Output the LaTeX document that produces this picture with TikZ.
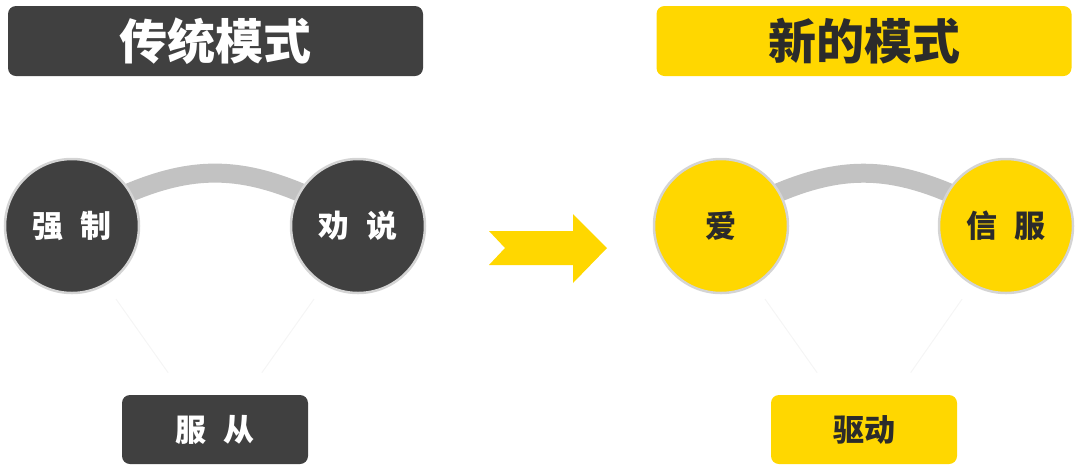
\documentclass[tikz,border=0pt]{standalone}
\usepackage{fontspec}
\newfontfamily\cjk{Noto Sans CJK SC}
\usetikzlibrary{positioning,backgrounds}
\definecolor{darkgrey}{HTML}{404040}
\definecolor{gold}{HTML}{FFD700}
\definecolor{bandgrey}{HTML}{C2C2C2}
\definecolor{ringgrey}{HTML}{D4D4D4}
\definecolor{inkgrey}{HTML}{2B2B2B}
\newcommand{\gap}{\hspace{0.55em}}

\tikzset{
  title/.style={rounded corners=8pt, minimum width=415pt, minimum height=70pt, inner sep=0pt, font=\cjk\bfseries\fontsize{48}{52}\selectfont},
  bubble/.style={circle, minimum size=134pt, draw=ringgrey, line width=2.5pt, inner sep=0pt, font=\cjk\bfseries\fontsize{31}{34}\selectfont},
  result/.style={rounded corners=8pt, minimum width=186pt, minimum height=69pt, inner sep=0pt, font=\cjk\bfseries\fontsize{31}{34}\selectfont},
  band/.style={bandgrey, line width=19pt, bend left=23, shorten <=-4pt, shorten >=-4pt},
  hint/.style={black!4, line width=1pt, shorten <=17pt, shorten >=27pt},
  old/.style={fill=darkgrey, text=white},
  new/.style={fill=gold, text=inkgrey}
}

\begin{document}
\begin{tikzpicture}[x=1pt,y=-1pt,node distance=286pt,on grid]
        \useasboundingbox (0,0) rectangle (1080,467);

        % traditional mode
        \node[title,old] (t_old) at (215.5,41) {传统模式};
        \node[bubble,old] (qz) at (72,226) {强\gap 制};
        \node[bubble,old] (qs) [right=of qz] {劝\gap 说};
        \node[result,old] (fc) at (215,429.5) {服\gap 从};

        % new mode
        \node[title,new] (t_new) at (864,41) {新的模式};
        \node[bubble,new] (ai) at (721,226) {爱};
        \node[bubble,new] (xf) [right=285pt of ai] {信\gap 服};
        \node[result,new] (qd) at (864,429.5) {驱动};

        \begin{scope}[on background layer]
        \draw[band] (qz.30) to (qs.150);
        \draw[band] (ai.30) to (xf.150);
        \end{scope}

        \draw[hint] (qz.-60) -- ([xshift=62pt]fc.north west);
        \draw[hint] (qs.240) -- ([xshift=-62pt]fc.north east);
        \draw[hint] (ai.-60) -- ([xshift=62pt]qd.north west);
        \draw[hint] (xf.240) -- ([xshift=-62pt]qd.north east);

        % arrow between
        \fill[gold] (489,231) -- (573,231) -- (573,214) -- (607,248) -- (573,283)
                -- (573,265) -- (489,265) -- (505,248) -- cycle;

\end{tikzpicture}
\end{document}
